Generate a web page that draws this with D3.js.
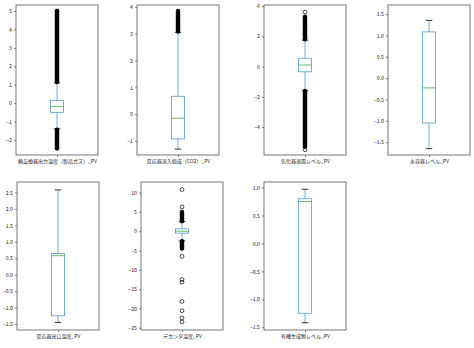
<!DOCTYPE html>
<html><head><meta charset="utf-8">
<script src="https://cdn.jsdelivr.net/npm/d3@7"></script>
<style>body{margin:0;background:#fff}svg{display:block}</style>
</head><body>
<script>
// ---- data ----
const labels = ["熱交換器出力温度（製品ガス）_PV","反応器流入組成（CO2）_PV","気化器液面レベル_PV","水容器レベル_PV",
                "反応器出口温度_PV","デカンタ温度_PV","有機生成物レベル_PV"];
const yDomains = [[-2.82,5.33],[-1.52,4.07],[-5.85,4.07],[-1.8,1.71],[-1.68,2.82],[-25.6,12.75],[-1.55,1.1]];
const yTicks = [[-2,-1,0,1,2,3,4,5],[-1,0,1,2,3,4],[-4,-2,0,2,4],[-1.5,-1.0,-0.5,0.0,0.5,1.0,1.5],
                [-1.5,-1.0,-0.5,0.0,0.5,1.0,1.5,2.0,2.5],[-25,-20,-15,-10,-5,0,5,10],[-1.5,-1.0,-0.5,0.0,0.5,1.0]];
const tickDecimals = [0,0,0,1,1,0,1];
const q1 = [-0.5,-0.92,-0.35,-1.05,-1.25,-0.5,-1.25];
const median = [-0.18,-0.15,0.1,-0.23,0.58,0.0,0.75];
const q3 = [0.15,0.67,0.55,1.08,0.65,0.6,0.8];
const whiskerLo = [-1.4,-1.3,-1.6,-1.65,-1.45,-2.5,-1.42];
const whiskerHi = [1.1,3.05,1.75,1.35,2.58,2.5,0.97];
// dense runs of outliers (appear as solid bands)
const flierBands = [[[1.15,5.0],[-1.45,-2.45]],[[3.08,3.85]],[[1.8,3.3],[-1.62,-5.3]],[],[],[[2.6,5.0],[-2.6,-4.5]],[]];
// isolated outliers
const fliers = [[-2.45,5.0],[],[3.6,-5.5],[],[],[6.3,10.8,-6.5,-12.5,-13.2,-18.2,-20.6,-22.5,-23.5],[]];

// ---- layout ----
const W=474,H=348;
const panels = [
  {x:16,y:5,w:82,h:150},{x:137,y:5,w:82,h:150},{x:264,y:5,w:82,h:150},{x:388,y:5,w:82,h:150},
  {x:17,y:182,w:82,h:148},{x:141,y:182,w:82,h:148},{x:264,y:182,w:82,h:148}
];
const svg = d3.select("body").append("svg").attr("width",W).attr("height",H);
const blue="#3f8bc4", green="#2ca02c";
const font="'Noto Sans CJK JP', 'DejaVu Sans', sans-serif";

panels.forEach((p,i)=>{
  const g = svg.append("g").attr("transform",`translate(${p.x},${p.y})`);
  const y = d3.scaleLinear().domain(yDomains[i]).range([p.h,0]);
  const x = d3.scaleLinear().domain([0.5,1.5]).range([0,p.w]);
  const cx = x(1), bw = 13, cw = 6.5;
  const fmt = v => d3.format(`.${tickDecimals[i]}f`)(v).replace("-","−");
  const ya = d3.axisLeft(y).tickValues(yTicks[i]).tickFormat(fmt).tickSize(2).tickPadding(2);
  const ag = g.append("g").call(ya);
  ag.select(".domain").remove();
  ag.selectAll("line").attr("stroke","#333").attr("stroke-width",0.6);
  ag.selectAll("text").attr("font-family",font).attr("font-size",5.2).attr("fill","#222");
  const xa = d3.axisBottom(x).tickValues([1]).tickFormat(()=>labels[i]).tickSize(2).tickPadding(2);
  const xg = g.append("g").attr("transform",`translate(0,${p.h})`).call(xa);
  xg.select(".domain").remove();
  xg.selectAll("line").attr("stroke","#333").attr("stroke-width",0.6);
  xg.selectAll("text").attr("font-family",font).attr("font-size",5).attr("fill","#222");
  // whiskers
  g.append("line").attr("x1",cx).attr("x2",cx).attr("y1",y(q3[i])).attr("y2",y(whiskerHi[i])).attr("stroke",blue).attr("stroke-width",0.7);
  g.append("line").attr("x1",cx).attr("x2",cx).attr("y1",y(q1[i])).attr("y2",y(whiskerLo[i])).attr("stroke",blue).attr("stroke-width",0.7);
  // fliers bands
  flierBands[i].forEach(b=>{
    g.append("line").attr("x1",cx).attr("x2",cx).attr("y1",y(b[0])).attr("y2",y(b[1]))
      .attr("stroke","#000").attr("stroke-width",4.4).attr("stroke-linecap","round");
  });
  g.selectAll(".fl").data(fliers[i]).enter().append("circle").attr("cx",cx).attr("cy",d=>y(d)).attr("r",1.9)
    .attr("fill","none").attr("stroke","#000").attr("stroke-width",0.7);
  // caps
  [whiskerLo[i],whiskerHi[i]].forEach(v=>{
    g.append("line").attr("x1",cx-cw/2).attr("x2",cx+cw/2).attr("y1",y(v)).attr("y2",y(v)).attr("stroke","#000").attr("stroke-width",0.8);
  });
  // box
  g.append("rect").attr("x",cx-bw/2).attr("width",bw).attr("y",y(q3[i])).attr("height",y(q1[i])-y(q3[i]))
    .attr("fill","#fff").attr("stroke",blue).attr("stroke-width",0.7);
  g.append("line").attr("x1",cx-bw/2).attr("x2",cx+bw/2).attr("y1",y(median[i])).attr("y2",y(median[i])).attr("stroke",green).attr("stroke-width",0.7);
  // frame
  g.append("rect").attr("width",p.w).attr("height",p.h).attr("fill","none").attr("stroke","#555").attr("stroke-width",0.8);
});
</script>
</body></html>
